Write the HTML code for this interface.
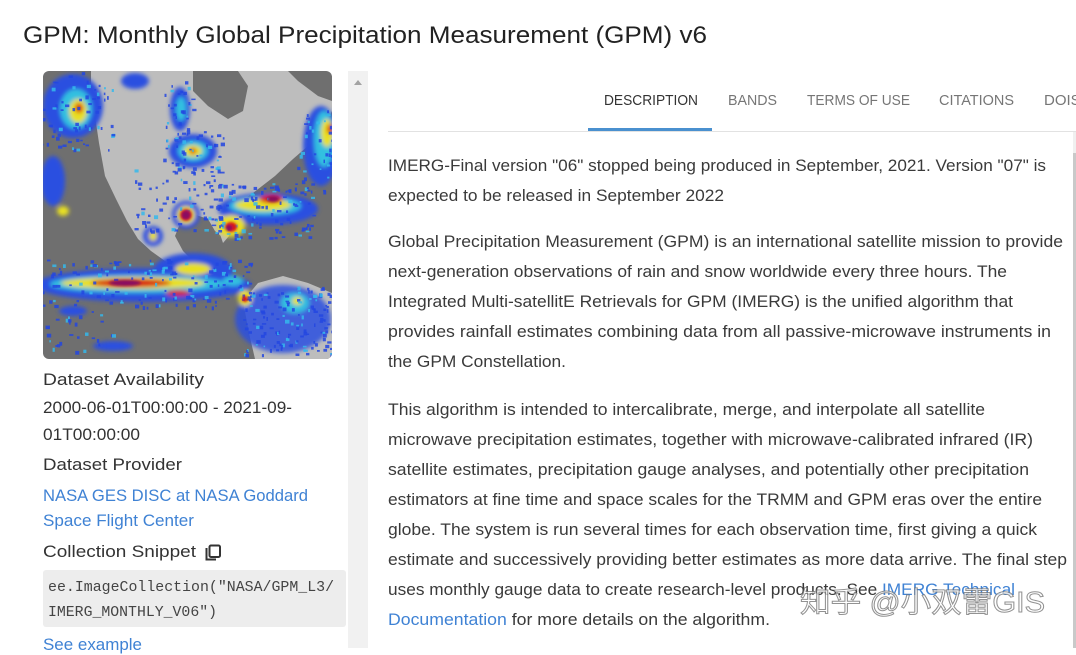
<!DOCTYPE html>
<html><head><meta charset="utf-8">
<style>
html,body{margin:0;padding:0;background:#fff;}
body{width:1076px;height:648px;position:relative;overflow:hidden;font-family:"Liberation Sans","Noto Sans CJK SC",sans-serif;color:#3a3a3a;}
.ln{position:absolute;white-space:nowrap;line-height:30px;font-size:17px;}
.ln>span{display:inline-block;transform-origin:0 50%;}
.lf{position:absolute;white-space:nowrap;line-height:20px;font-size:17px;color:#333;}
.lf>span{display:inline-block;transform-origin:0 50%;}
.tab{position:absolute;top:91px;line-height:20px;font-size:15px;white-space:nowrap;color:#767676;}
.tab>span{display:inline-block;transform-origin:0 50%;}
.lk{color:#3f82d4;}
.code{position:absolute;white-space:nowrap;line-height:20px;font-size:15px;font-family:"Liberation Mono",monospace;color:#444;}
.code>span{display:inline-block;transform-origin:0 50%;}
</style></head>
<body>
<div class="ln" style="left:23px;top:21px;width:684px;font-size:24px;color:#222;"><span>GPM: Monthly Global Precipitation Measurement (GPM) v6</span></div>

<!-- map image -->
<svg style="position:absolute;left:43px;top:71px" width="289" height="288" viewBox="0 0 289 288">
<defs>
<clipPath id="cp"><rect x="0" y="0" width="289" height="288" rx="6" ry="6"/></clipPath>
<filter id="bl" x="-20%" y="-20%" width="140%" height="140%"><feGaussianBlur stdDeviation="2.2"/></filter>
<filter id="bl2" x="-20%" y="-20%" width="140%" height="140%"><feGaussianBlur stdDeviation="1.2"/></filter>
</defs>
<g clip-path="url(#cp)">
<rect width="289" height="288" fill="#6f6f6f"/>
<polygon fill="#bdbdbd" points="48,0 150,0 150,20 165,35 185,48 200,40 205,15 195,0 245,0 255,10 275,25 289,30 289,40 280,60 265,75 250,88 232,105 210,122 192,135 180,150 178,165 172,160 165,148 150,143 138,150 132,165 140,180 150,190 140,197 122,190 108,180 95,168 84,150 73,128 62,105 56,72 52,45 48,20"/>
<polygon fill="#bdbdbd" points="200,230 215,212 240,205 265,212 289,222 289,288 212,288 206,262"/>
<polygon fill="#bdbdbd" points="176,160 182,152 186,165 180,172"/>
<g filter="url(#bl)">
<ellipse cx="100" cy="214" rx="108" ry="17" fill="#2a4fe0"/>
<ellipse cx="150" cy="200" rx="40" ry="18" fill="#2a4fe0"/>
<ellipse cx="95" cy="213" rx="88" ry="9" fill="#30c0e0"/>
<ellipse cx="90" cy="212" rx="72" ry="6" fill="#e8e020"/>
<ellipse cx="150" cy="198" rx="18" ry="6" fill="#e8e020"/>
<ellipse cx="88" cy="212" rx="40" ry="4" fill="#d81818"/>
<ellipse cx="135" cy="222" rx="12" ry="3" fill="#d81818"/>
<ellipse cx="30" cy="35" rx="30" ry="32" fill="#2a4fe0"/>
<ellipse cx="33" cy="38" rx="16" ry="20" fill="#30c0e0"/>
<ellipse cx="35" cy="40" rx="9" ry="12" fill="#e8e020"/>
<ellipse cx="36" cy="37" rx="4" ry="5" fill="#d81818"/>
<ellipse cx="10" cy="110" rx="12" ry="25" fill="#2a4fe0"/>
<ellipse cx="20" cy="140" rx="6" ry="5" fill="#e8e020"/>
<ellipse cx="137" cy="38" rx="10" ry="22" fill="#2a4fe0"/>
<ellipse cx="138" cy="38" rx="5" ry="12" fill="#30c0e0"/>
<ellipse cx="92" cy="10" rx="14" ry="8" fill="#2a4fe0"/>
<ellipse cx="150" cy="80" rx="24" ry="17" fill="#2a4fe0"/>
<ellipse cx="150" cy="80" rx="15" ry="10" fill="#30c0e0"/>
<ellipse cx="150" cy="80" rx="9" ry="6" fill="#e8e020"/>
<ellipse cx="150" cy="80" rx="3" ry="3" fill="#d81818"/>
<ellipse cx="278" cy="75" rx="18" ry="40" fill="#2a4fe0"/>
<ellipse cx="281" cy="68" rx="10" ry="28" fill="#30c0e0"/>
<ellipse cx="284" cy="62" rx="6" ry="14" fill="#e8e020"/>
<ellipse cx="287" cy="58" rx="3" ry="5" fill="#d81818"/>
<ellipse cx="225" cy="138" rx="50" ry="16" fill="#2a4fe0"/>
<ellipse cx="222" cy="135" rx="36" ry="9" fill="#30c0e0"/>
<ellipse cx="220" cy="134" rx="28" ry="6" fill="#e8e020"/>
<ellipse cx="228" cy="128" rx="12" ry="4" fill="#d81818"/>
<ellipse cx="188" cy="155" rx="14" ry="11" fill="#e8e020"/>
<circle cx="143" cy="144" r="14" fill="#2a4fe0"/>
<circle cx="143" cy="144" r="9" fill="#e8e020"/>
<ellipse cx="110" cy="165" rx="10" ry="10" fill="#2a4fe0"/>
<ellipse cx="110" cy="165" rx="4" ry="5" fill="#e8e020"/>
<ellipse cx="240" cy="248" rx="48" ry="34" fill="#2a4fe0" opacity="0.85"/>
<ellipse cx="252" cy="232" rx="14" ry="10" fill="#30c0e0"/>
<ellipse cx="254" cy="230" rx="5" ry="4" fill="#e8e020"/>
<ellipse cx="202" cy="227" rx="7" ry="8" fill="#e8e020"/>
<ellipse cx="190" cy="210" rx="10" ry="5" fill="#30c0e0"/>
<ellipse cx="30" cy="240" rx="14" ry="5" fill="#2a4fe0"/>
<ellipse cx="70" cy="275" rx="20" ry="5" fill="#2a4fe0"/>
</g>
<g id="spk"></g>
<g filter="url(#bl2)">
<circle cx="143" cy="144" r="6" fill="#d81818"/>
<circle cx="143" cy="144" r="4.5" fill="#8a1060"/>
<ellipse cx="188" cy="156" rx="6" ry="5" fill="#d81818"/>
<ellipse cx="186" cy="157" rx="3.5" ry="3" fill="#8a1060"/>
<ellipse cx="82" cy="212" rx="16" ry="3" fill="#8a1060"/>
<ellipse cx="230" cy="128" rx="6" ry="3" fill="#8a1060"/>
<ellipse cx="202" cy="228" rx="3" ry="3" fill="#d81818"/>
</g>
</g>
</svg>

<!-- left column -->
<div class="lf" style="left:43px;top:370px;width:161px;"><span>Dataset Availability</span></div>
<div class="lf" style="left:43px;top:398px;width:249px;"><span>2000-06-01T00:00:00 - 2021-09-</span></div>
<div class="lf" style="left:43px;top:425px;width:97px;"><span>01T00:00:00</span></div>
<div class="lf" style="left:43px;top:455px;width:139px;"><span>Dataset Provider</span></div>
<div class="lf lk" style="left:43px;top:486px;width:265px;"><span>NASA GES DISC at NASA Goddard</span></div>
<div class="lf lk" style="left:43px;top:511px;width:151px;"><span>Space Flight Center</span></div>
<div class="lf" style="left:43px;top:542px;width:153px;"><span>Collection Snippet</span></div>
<svg style="position:absolute;left:204px;top:544px" width="18" height="18" viewBox="0 0 18 18">
<path d="M2.5 4 V15.5 H12" fill="none" stroke="#333" stroke-width="2"/>
<rect x="5.5" y="1.5" width="10.5" height="11.5" rx="1.5" fill="none" stroke="#333" stroke-width="2"/>
</svg>
<div style="position:absolute;left:43px;top:570px;width:303px;height:57px;background:#ededed;border-radius:3px;"></div>
<div class="code" style="left:48px;top:578px;width:286px;"><span>ee.ImageCollection("NASA/GPM_L3/</span></div>
<div class="code" style="left:48px;top:603px;width:169px;"><span>IMERG_MONTHLY_V06")</span></div>
<div class="lf lk" style="left:43px;top:635px;width:99px;"><span>See example</span></div>

<!-- left scroll strip -->
<div style="position:absolute;left:348px;top:71px;width:20px;height:577px;background:#f1f1f1;"></div>
<div style="position:absolute;left:354px;top:80px;width:0;height:0;border-left:4px solid transparent;border-right:4px solid transparent;border-bottom:5px solid #a3a3a3;"></div>

<!-- tabs -->
<div class="tab" style="left:604px;width:94px;color:#333;"><span>DESCRIPTION</span></div>
<div class="tab" style="left:728px;width:49px;"><span>BANDS</span></div>
<div class="tab" style="left:807px;width:103px;"><span>TERMS OF USE</span></div>
<div class="tab" style="left:939px;width:75px;"><span>CITATIONS</span></div>
<div class="tab" style="left:1044px;"><span>DOIS</span></div>
<div style="position:absolute;left:388px;top:131px;width:688px;height:1px;background:#e2e2e2;"></div>
<div style="position:absolute;left:588px;top:128px;width:124px;height:3px;background:#4a90cf;"></div>

<!-- right scrollbar -->
<div style="position:absolute;left:1073px;top:132px;width:3px;height:21px;background:#f0f0f0;"></div>
<div style="position:absolute;left:1073px;top:153px;width:3px;height:495px;background:#c9c9c9;"></div>

<!-- description text -->
<div class="ln" style="left:388px;top:151px;width:658px;"><span>IMERG-Final version "06" stopped being produced in September, 2021. Version "07" is</span></div>
<div class="ln" style="left:388px;top:181px;width:336px;"><span>expected to be released in September 2022</span></div>

<div class="ln" style="left:388px;top:227px;width:675px;"><span>Global Precipitation Measurement (GPM) is an international satellite mission to provide</span></div>
<div class="ln" style="left:388px;top:257px;width:619px;"><span>next-generation observations of rain and snow worldwide every three hours. The</span></div>
<div class="ln" style="left:388px;top:287px;width:625px;"><span>Integrated Multi-satellitE Retrievals for GPM (IMERG) is the unified algorithm that</span></div>
<div class="ln" style="left:388px;top:317px;width:663px;"><span>provides rainfall estimates combining data from all passive-microwave instruments in</span></div>
<div class="ln" style="left:388px;top:347px;width:178px;"><span>the GPM Constellation.</span></div>

<div class="ln" style="left:388px;top:395px;width:597px;"><span>This algorithm is intended to intercalibrate, merge, and interpolate all satellite</span></div>
<div class="ln" style="left:388px;top:425px;width:645px;"><span>microwave precipitation estimates, together with microwave-calibrated infrared (IR)</span></div>
<div class="ln" style="left:388px;top:455px;width:641px;"><span>satellite estimates, precipitation gauge analyses, and potentially other precipitation</span></div>
<div class="ln" style="left:388px;top:485px;width:654px;"><span>estimators at fine time and space scales for the TRMM and GPM eras over the entire</span></div>
<div class="ln" style="left:388px;top:515px;width:649px;"><span>globe. The system is run several times for each observation time, first giving a quick</span></div>
<div class="ln" style="left:388px;top:545px;width:679px;"><span>estimate and successively providing better estimates as more data arrive. The final step</span></div>
<div class="ln" style="left:388px;top:575px;width:627px;"><span>uses monthly gauge data to create research-level products. See <span class="lk">IMERG Technical</span></span></div>
<div class="ln" style="left:388px;top:605px;width:382px;"><span><span class="lk">Documentation</span> for more details on the algorithm.</span></div>

<!-- watermark -->
<div class="ln" style="left:800px;top:586px;width:245px;font-size:29px;line-height:34px;color:rgba(255,255,255,0.75);-webkit-text-stroke:1px rgba(110,110,110,0.75);"><span>知乎 @小双雷GIS</span></div>

<script>
(function(){
  var els=document.querySelectorAll('.ln,.lf,.tab,.code');
  for(var i=0;i<els.length;i++){
    var e=els[i];var s=e.firstElementChild;if(!s)continue;
    var tw=parseFloat(e.style.width);var nw=s.getBoundingClientRect().width;
    if(tw&&nw){s.style.transform='scaleX('+(tw/nw)+')';}
  }
  // speckles on map
  var seed=12345;function r(){seed=(seed*1103515245+12345)%2147483648;return seed/2147483648;}
  var g=document.getElementById('spk');var ns='http://www.w3.org/2000/svg';
  var regions=[[30,40,40,40,70],[245,250,45,35,140],[215,140,55,28,120],[100,212,110,24,160],[135,125,45,35,70],[135,40,15,30,30],[270,80,20,45,40],[150,80,30,22,40],[30,260,40,20,30]];
  for(var k=0;k<regions.length;k++){
    var R=regions[k];
    for(var j=0;j<R[4];j++){
      var x=R[0]+(r()*2-1)*R[2],y=R[1]+(r()*2-1)*R[3];
      var el=document.createElementNS(ns,'rect');
      var sz=1.5+r()*3;
      el.setAttribute('x',x.toFixed(1));el.setAttribute('y',y.toFixed(1));
      el.setAttribute('width',sz.toFixed(1));el.setAttribute('height',(1.5+r()*2.5).toFixed(1));
      el.setAttribute('fill',r()<0.75?'#2346e0':'#35b8ec');
      el.setAttribute('opacity','0.85');
      g.appendChild(el);
    }
  }
})();
</script>
</body></html>
